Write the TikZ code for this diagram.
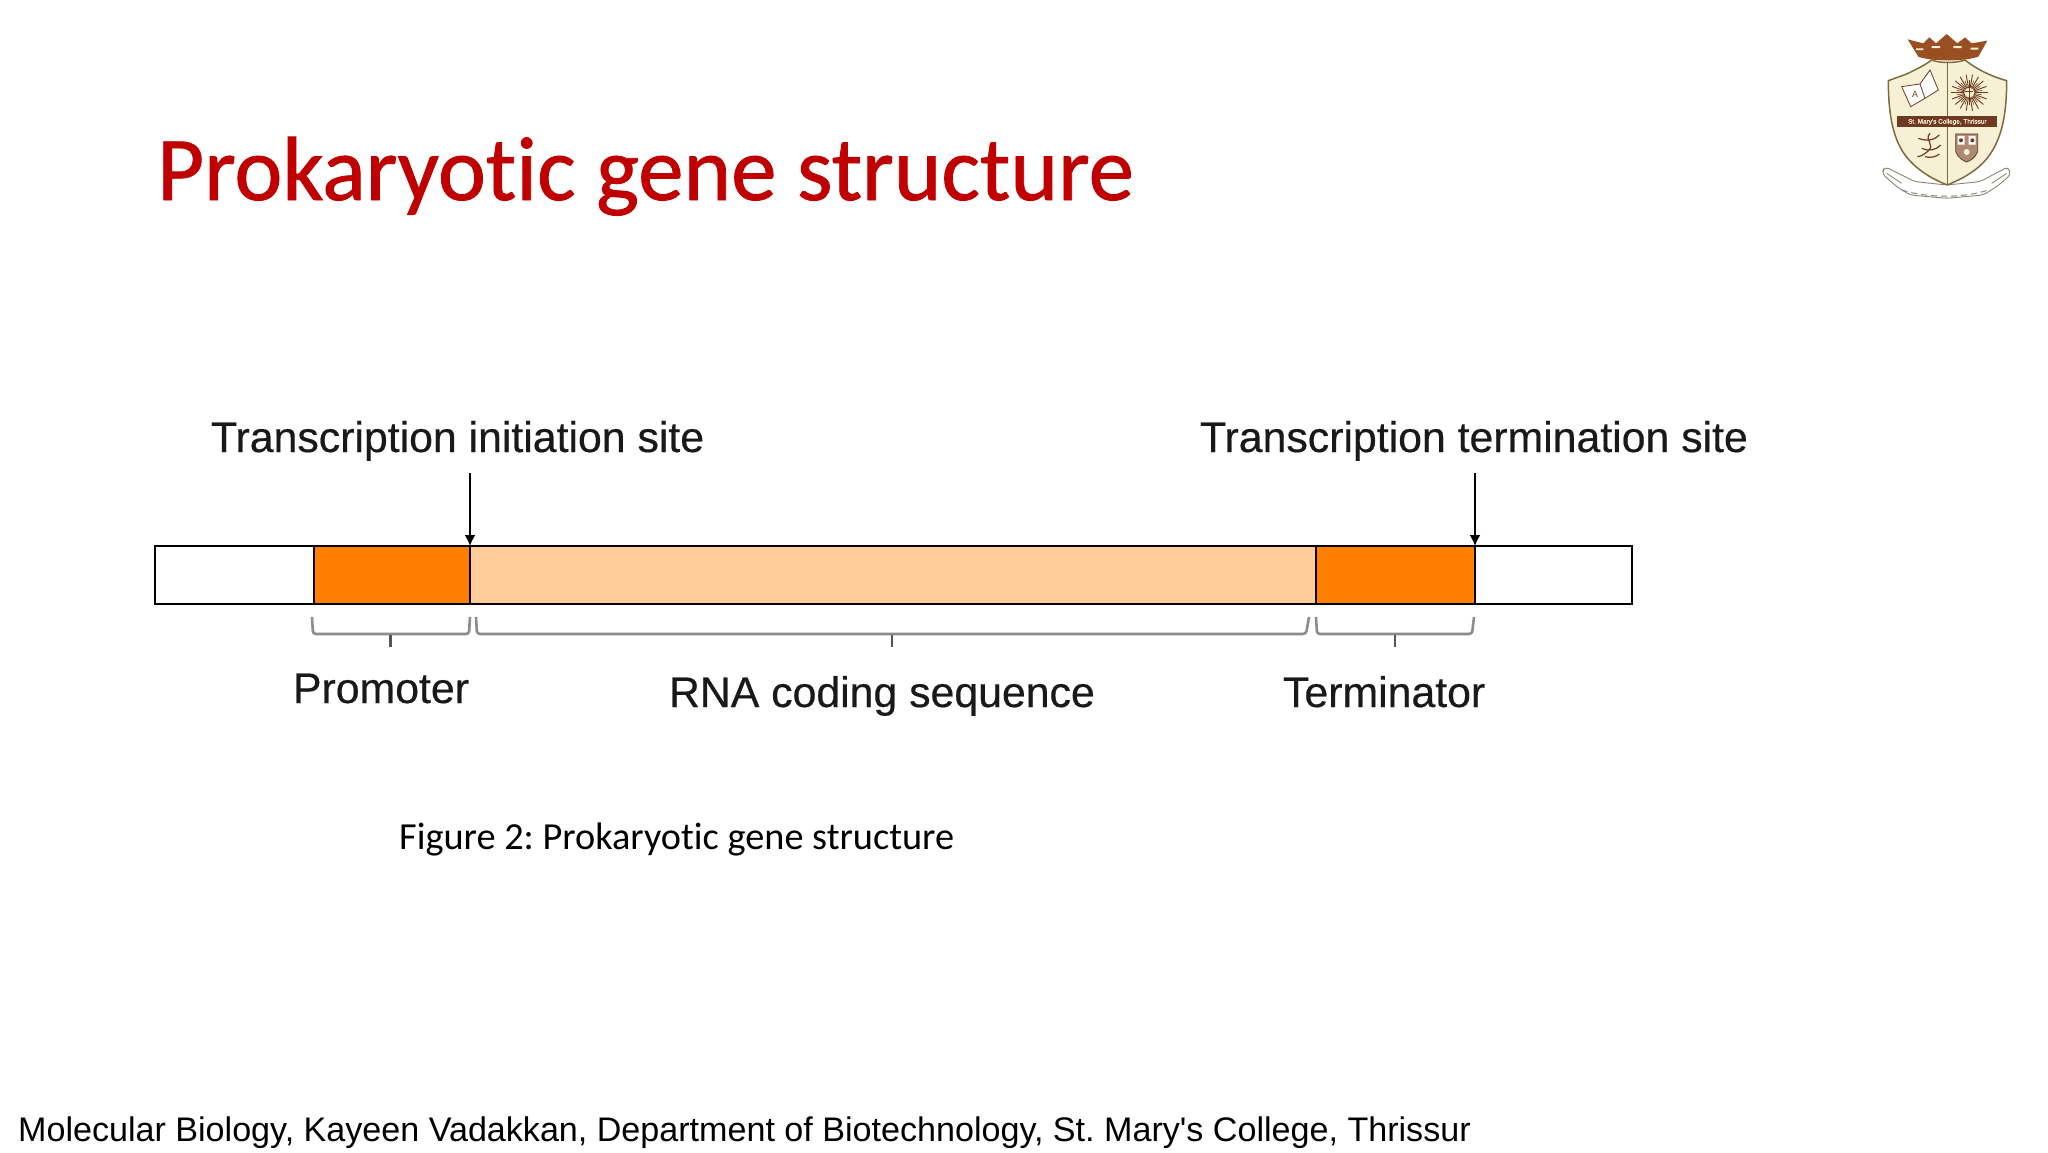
\documentclass[tikz,border=0pt]{standalone}
\usepackage{fontspec}
\setmainfont{Liberation Sans}
\newfontfamily\carl[Ligatures=NoCommon]{Carlito}
\newfontfamily\carlb[Ligatures=NoCommon,FakeBold=0.9]{Carlito}
\newfontfamily\labelfont[FakeBold=0.4]{Liberation Sans}
\newfontfamily\footfont{Liberation Sans}
\newfontfamily\bandfont[FakeBold=1]{Liberation Sans}
\definecolor{titlered}{HTML}{C00000}
\definecolor{deeporange}{HTML}{FF8000}
\definecolor{paleorange}{HTML}{FFCC99}
\definecolor{bracegray}{HTML}{8C8C8C}
\definecolor{tickgray}{HTML}{555555}
\definecolor{crestcream}{HTML}{F6F0D4}
\definecolor{crestline}{HTML}{7C6B3C}
\definecolor{crestbrown}{HTML}{9A4F22}
\definecolor{crestdark}{HTML}{6E3A22}
\definecolor{crestgray}{HTML}{8A8478}
\usetikzlibrary{arrows.meta}
\tikzset{
  seg/.style={draw=black,line width=1.6pt,minimum height=58pt,inner sep=0pt,outer sep=0pt,anchor=north west},
  brc/.style={draw=bracegray,line width=2.6pt,rounded corners=3pt},
  tick/.style={draw=tickgray,line width=2.4pt},
  pointer/.style={draw=black,line width=1.8pt,-{Latex[length=11pt,width=11pt]}},
  lbl/.style={anchor=base west,inner sep=0pt,outer sep=0pt,text=black!90,font=\labelfont\fontsize{42.8}{48}\selectfont},
  crest/.style={line width=1.1pt,draw=crestline},
  crestthin/.style={line width=.8pt,draw=crestdark},
}
\begin{document}
\begin{tikzpicture}[x=1pt,y=-1pt]
\frenchspacing
\useasboundingbox (0,0) rectangle (2048,1152);
\fill[white] (0,0) rectangle (2048,1152);
% title
\node[anchor=base west,inner sep=0pt,text=titlered,font=\carlb\fontsize{90.9}{100}\selectfont] (title) at (157,200) {Prokaryotic gene structure};
% bar
\node[seg,minimum width=159pt,fill=white] (u1) at (155,546) {};
\node[seg,minimum width=156pt,fill=deeporange] (pro) at (314,546) {};
\node[seg,minimum width=846pt,fill=paleorange] (rna) at (470,546) {};
\node[seg,minimum width=159pt,fill=deeporange] (ter) at (1316,546) {};
\node[seg,minimum width=157pt,fill=white] (u2) at (1475,546) {};
% site labels
\node[lbl] (tis) at (211,452) {Transcription initiation site};
\node[lbl] (tts) at (1200,452) {Transcription termination site};
\coordinate (a1) at (470,473);
\coordinate (a2) at (1475,473);
\draw[pointer] (a1) -- (pro.north east);
\draw[pointer] (a2) -- (ter.north east);
% braces
\coordinate (b1a) at (312,617); \coordinate (b1b) at (470,617);
\coordinate (b2a) at (476,617); \coordinate (b2b) at (1309,617);
\coordinate (b3a) at (1316,617); \coordinate (b3b) at (1474,617);
\draw[brc] (b1a) -- ++(1,17) -- ++(156,0) -- (b1b);
\draw[brc] (b2a) -- ++(1,17) -- ++(829,0) -- (b2b);
\draw[brc] (b3a) -- ++(1,17) -- ++(155,0) -- (b3b);
\coordinate (t1) at (390.5,635); \coordinate (t2) at (892,635); \coordinate (t3) at (1395,635);
\draw[tick] (t1) -- ++(0,12);
\draw[tick] (t2) -- ++(0,12);
\draw[tick] (t3) -- ++(0,12);
% part labels
\node[lbl] (prom) at (293,703) {Promoter};
\node[lbl] (cod) at (669,707) {RNA coding sequence};
\node[lbl] (term) at (1283,707) {Terminator};
% caption and footer
\node[anchor=base west,inner sep=0pt,font=\carl\fontsize{38.3}{42}\selectfont] (cap) at (399,849) {Figure 2: Prokaryotic gene structure};
\node[anchor=base west,inner sep=0pt,font=\footfont\fontsize{34.1}{40}\selectfont] (foot) at (18,1141) {Molecular Biology, Kayeen Vadakkan, Department of Biotechnology, St. Mary's College, Thrissur};
% crest (drawn in 3x crop coordinates)
\begin{scope}[shift={(1840,10)},x=.3333pt,y=-.3333pt]
  % ribbon
  \draw[line width=.9pt,draw=crestgray,fill=white,rounded corners=4pt]
    (125,490) -- (135,470) -- (225,515) -- (320,525) -- (420,515) -- (505,470) -- (512,495)
    -- (470,530) -- (430,555) -- (320,565) -- (210,555) -- (170,530) -- cycle;
  \draw[line width=1pt,draw=crestgray,dash pattern=on 6pt off 4pt] (185,540) .. controls (260,565) and (380,565) .. (450,538);
  \draw[line width=.8pt,draw=crestgray] (140,490) -- (185,520) (500,490) -- (455,520);
  % shield
  \draw[crest,line width=1.5pt,fill=crestcream]
    (145,212) -- (200,192) .. controls (235,175) and (255,165) .. (275,150)
    .. controls (300,160) and (345,160) .. (375,150) .. controls (400,170) and (440,195) .. (500,212)
    .. controls (500,300) and (490,380) .. (445,440) .. controls (415,480) and (370,505) .. (322,525)
    .. controls (270,505) and (225,475) .. (195,435) .. controls (155,380) and (145,300) .. (145,212) -- cycle;
  \draw[crest,line width=1.5pt] (322,158) -- (322,525);
  % crown
  \fill[crestbrown] (203,88) -- (250,100) -- (268,82) -- (288,100) -- (320,72) -- (352,100) -- (375,82) -- (395,100) -- (442,92)
    -- (415,140) .. controls (370,155) and (275,155) .. (235,140) -- cycle;
  \fill[crestcream] (228,115) rectangle (250,120) (275,108) rectangle (300,114) (340,108) rectangle (365,114) (392,113) rectangle (415,119);
  % band
  \fill[crestdark] (172,318) rectangle (472,352);
  \node[inner sep=0pt,text=crestcream,font=\bandfont\fontsize{6.4}{7}\selectfont] (band) at (322,336) {St. Mary's College, Thrissur};
  % book
  \draw[crestthin,fill=white] (185,230) -- (240,222) -- (270,180) -- (295,240) -- (255,265) -- (212,290) -- cycle;
  \draw[crestthin] (240,222) -- (255,265);
  \node[inner sep=0pt,text=crestdark,font=\fontsize{9}{9}\selectfont] (bookl) at (225,252) {A};
  % sun
  \foreach \a in {0,20,...,340}{
    \draw[crestthin,line width=.9pt] (388,248) -- ++(\a:55);
    \draw[crestthin,line width=.6pt] (388,248) -- ++(\a+10:38);
  }
  \fill[crestcream] (388,248) circle (15);
  \draw[crestdark,line width=1.1pt] (376,244) -- (400,244) (388,232) -- (388,266);
  % plant
  \draw[crestthin,line width=1.2pt] (270,370) .. controls (250,390) and (290,405) .. (262,425) .. controls (250,435) and (240,440) .. (232,440);
  \draw[crestthin,line width=1.2pt] (235,385) .. controls (260,395) and (285,390) .. (298,375)
    (245,415) .. controls (265,425) and (290,420) .. (302,405) (255,440) .. controls (270,445) and (290,440) .. (298,432);
  % small shield
  \draw[crestthin,fill=crestdark!55!crestcream] (347,372) -- (413,372) -- (413,425) .. controls (405,445) and (390,452) .. (380,456) .. controls (370,452) and (355,445) .. (347,425) -- cycle;
  \fill[white] (353,378) rectangle (374,404) (386,378) rectangle (407,404);
  \fill[crestdark] (363,391) circle (6) (397,391) circle (6);
  \fill[crestcream] (380,426) circle (9);
\end{scope}
\end{tikzpicture}
\end{document}
